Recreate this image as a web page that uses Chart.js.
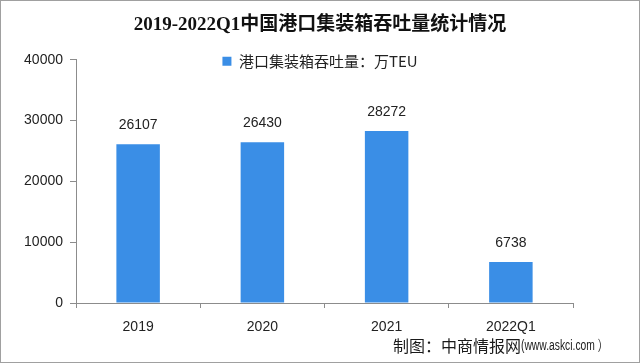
<!DOCTYPE html>
<html>
<head>
<meta charset="utf-8">
<script src="https://cdn.jsdelivr.net/npm/chart.js@4/dist/chart.umd.min.js"></script>
<style>
  html, body { margin: 0; padding: 0; background: #fff; }
  #wrap { width: 640px; height: 363px; position: relative; }
</style>
</head>
<body>
<div id="wrap"><canvas id="c" width="640" height="363"></canvas></div>
<script>
const categories = ["2019", "2020", "2021", "2022Q1"];
const throughput = [26107, 26430, 28272, 6738];
const yTicks = [0, 10000, 20000, 30000, 40000];
const seriesName = "港口集装箱吞吐量：万TEU";
const titleText = "2019-2022Q1中国港口集装箱吞吐量统计情况";
const sourceCJK = "制图：中商情报网";
const sourceLatin = "(www.askci.com ）";

const BLUE = "#3A8EE6";
const AXIS = "#8c8c8c";
const LEGEND_RESERVED = 14;

const extras = {
  id: "extras",
  beforeUpdate(chart) {
    const lg = chart.legend;
    if (lg && !lg._patchedFit) {
      const orig = lg.fit;
      lg.fit = function () {
        orig.call(this);
        this._fullHeight = this.height;
        this.height = LEGEND_RESERVED;
      };
      lg._patchedFit = true;
    }
  },
  beforeDraw(chart) {
    const ctx = chart.ctx;
    const lg = chart.legend;
    if (lg && lg._fullHeight) {
      lg.height = lg._fullHeight;
      lg.bottom = lg.top + lg._fullHeight;
    }
    ctx.save();
    ctx.fillStyle = "#fff";
    ctx.fillRect(0, 0, chart.width, chart.height);
    ctx.restore();
  },
  afterDatasetsDraw(chart) {
    const ctx = chart.ctx;
    const meta = chart.getDatasetMeta(0);
    ctx.save();
    ctx.font = "14px 'Liberation Sans', sans-serif";
    ctx.fillStyle = "#222";
    ctx.textAlign = "center";
    ctx.textBaseline = "bottom";
    meta.data.forEach((bar, i) => {
      ctx.fillText(String(chart.data.datasets[0].data[i]), bar.x, bar.y - 12);
    });
    ctx.restore();
  },
  afterDraw(chart) {
    const ctx = chart.ctx;
    ctx.save();
    ctx.fillStyle = "#1a1a1a";
    ctx.textBaseline = "middle";
    ctx.textAlign = "right";
    ctx.font = "14px 'Liberation Sans', 'Noto Sans CJK SC', sans-serif";
    const lw = Math.min(ctx.measureText(sourceLatin).width, 87);
    ctx.fillText(sourceLatin, 608, 346, 87);
    ctx.font = "16px 'Noto Sans CJK SC', sans-serif";
    ctx.fillText(sourceCJK, 608 - lw, 346);
    ctx.strokeStyle = "#a0a0a0";
    ctx.lineWidth = 1;
    ctx.strokeRect(0.5, 0.5, chart.width - 1, chart.height - 1);
    ctx.restore();
  }
};

new Chart(document.getElementById("c"), {
  type: "bar",
  data: {
    labels: categories,
    datasets: [{
      label: seriesName,
      data: throughput,
      backgroundColor: BLUE,
      borderWidth: 0,
      barPercentage: 0.35,
      categoryPercentage: 1.0
    }]
  },
  options: {
    responsive: false,
    animation: false,
    layout: { padding: { left: 0, right: 0, top: 0, bottom: 0 } },
    plugins: {
      title: {
        display: true,
        text: titleText,
        color: "#111",
        font: { family: "'Liberation Serif', 'Noto Sans CJK SC', serif", size: 19, weight: "bold" },
        padding: { top: 14, bottom: 9 }
      },
      legend: {
        display: true,
        position: "top",
        align: "center",
        labels: {
          boxWidth: 9,
          boxHeight: 9,
          color: "#222",
          font: { family: "'Noto Sans CJK SC', sans-serif", size: 15 },
          padding: 8
        }
      },
      tooltip: { enabled: false }
    },
    scales: {
      y: {
        min: 0,
        max: 40000,
        afterFit(scale) { scale.width = 76; },
        afterBuildTicks(scale) { scale.ticks = yTicks.map(v => ({ value: v })); },
        grid: { drawOnChartArea: false, drawTicks: true, tickLength: 6, color: AXIS },
        border: { display: true, color: AXIS },
        ticks: {
          color: "#222",
          padding: 7,
          callback: (v) => String(v),
          font: { family: "'Liberation Sans', sans-serif", size: 14 }
        }
      },
      r: {
        position: "right",
        display: true,
        afterFit(scale) { scale.width = 67; },
        grid: { display: false },
        border: { display: false },
        ticks: { display: false }
      },
      x: {
        afterFit(scale) { scale.height = 60; },
        grid: { drawOnChartArea: false, drawTicks: true, tickLength: 5, color: AXIS, offset: true },
        border: { display: true, color: AXIS },
        ticks: {
          color: "#222",
          padding: 11,
          font: { family: "'Liberation Sans', sans-serif", size: 14 }
        }
      }
    }
  },
  plugins: [extras]
});
</script>
</body>
</html>
